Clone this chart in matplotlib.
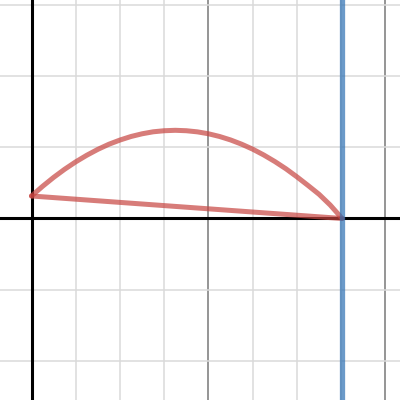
import numpy as np
import matplotlib
matplotlib.use("Agg")
import matplotlib.pyplot as plt

# arc (x and y in grid steps)
arc_x = [0.0, 0.25, 0.5, 0.75, 1.0, 1.25, 1.5, 1.75, 2.0, 2.25, 2.5, 2.75, 3.0, 3.25,
         3.5, 3.75, 4.0, 4.25, 4.5, 4.75, 5.0, 5.25, 5.5, 5.75, 6.0, 6.25, 6.5, 6.75, 7.02]
arc_y = [0.317, 0.453, 0.579, 0.694, 0.798, 0.891, 0.974, 1.046, 1.105, 1.155, 1.193, 1.221,
         1.236, 1.242, 1.236, 1.220, 1.193, 1.155, 1.106, 1.046, 0.976, 0.894, 0.802, 0.700,
         0.586, 0.465, 0.340, 0.190, 0.0]

chord_x = [0.0, 7.02]
chord_y = [0.317, 0.0]

wall_x = 7.02

minor_x = [1, 2, 3, 5, 6, 7]
major_x = [4, 8]
grid_y = [-2, -1, 1, 2, 3]

fig = plt.figure(figsize=(4, 4), dpi=100)
ax = fig.add_axes([0, 0, 1, 1])
ax.set_xlim(-0.712, 8.328)
ax.set_ylim(-2.556, 3.077)

for gx in minor_x:
    ax.axvline(gx, color="#dadada", lw=1.1, zorder=1)
for gx in major_x:
    ax.axvline(gx, color="#8c8c8c", lw=1.3, zorder=1)
for gy in grid_y:
    ax.axhline(gy, color="#dadada", lw=1.1, zorder=1)

ax.axhline(0, color="black", lw=2.2, zorder=2)
ax.axvline(0, color="black", lw=2.2, zorder=2)

ax.plot(chord_x, chord_y, color="#c74440", alpha=0.7, lw=3.6,
        solid_capstyle="round", zorder=3)
ax.plot(arc_x, arc_y, color="#c74440", alpha=0.7, lw=3.6,
        solid_capstyle="round", solid_joinstyle="round", zorder=3)
ax.axvline(wall_x, color="#2d70b3", alpha=0.7, lw=3.8, zorder=4)

ax.set_xticks([]); ax.set_yticks([])
for s in ax.spines.values():
    s.set_visible(False)

fig.savefig("out.png", dpi=100)
